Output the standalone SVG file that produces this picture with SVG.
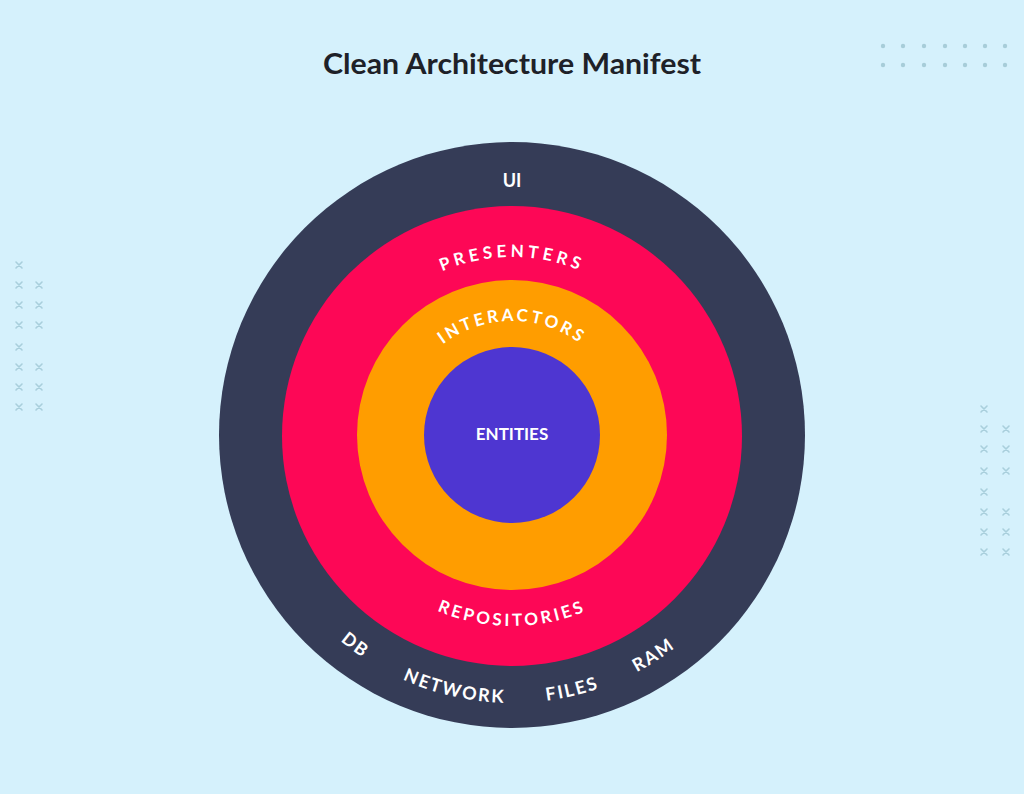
<svg xmlns="http://www.w3.org/2000/svg" width="1024" height="794" viewBox="0 0 1024 794">
<defs>
<style>
.lbl{font-family:Lato,"Open Sans","Liberation Sans",sans-serif;font-weight:700;fill:#ffffff;}
.arc{font-size:17px;letter-spacing:4px;}
.out{font-size:18px;letter-spacing:2px;}
.dot{fill:#a7cdd9;}
.x{stroke:#a9cfdc;stroke-width:1.6;stroke-linecap:round;}
</style>
<path id="pPres" d="M 334 435 A 178 178 0 0 1 690 435"/>
<path id="pInter" d="M 398 435 A 114 114 0 0 1 626 435"/>
<path id="pRepo" d="M 321 435 A 191 191 0 0 0 703 435"/>
<path id="pOut" d="M 244 435 A 268 268 0 0 0 780 435"/>
<g id="cross"><path class="x" d="M -3 -3 L 3 3 M -3 3 L 3 -3"/></g>
</defs>
<rect width="1024" height="794" fill="#d5f1fc"/>
<text x="512" y="74" text-anchor="middle" font-family="Lato,'Liberation Sans',sans-serif" font-weight="700" font-size="28" fill="#1e2128" textLength="378" lengthAdjust="spacingAndGlyphs">Clean Architecture Manifest</text>
<g id="dots">
<circle class="dot" cx="883" cy="46" r="2.2"/><circle class="dot" cx="903" cy="46" r="2.2"/><circle class="dot" cx="924" cy="46" r="2.2"/><circle class="dot" cx="945" cy="46" r="2.2"/><circle class="dot" cx="965" cy="46" r="2.2"/><circle class="dot" cx="985" cy="46" r="2.2"/><circle class="dot" cx="1005" cy="46" r="2.2"/>
<circle class="dot" cx="883" cy="65" r="2.2"/><circle class="dot" cx="903" cy="65" r="2.2"/><circle class="dot" cx="924" cy="65" r="2.2"/><circle class="dot" cx="945" cy="65" r="2.2"/><circle class="dot" cx="965" cy="65" r="2.2"/><circle class="dot" cx="985" cy="65" r="2.2"/><circle class="dot" cx="1005" cy="65" r="2.2"/>
</g>
<g id="crossesLeft">
<use href="#cross" x="19" y="265"/>
<use href="#cross" x="19" y="285"/><use href="#cross" x="39" y="285"/>
<use href="#cross" x="19" y="305"/><use href="#cross" x="39" y="305"/>
<use href="#cross" x="19" y="325"/><use href="#cross" x="39" y="325"/>
<use href="#cross" x="19" y="347"/>
<use href="#cross" x="19" y="367"/><use href="#cross" x="39" y="367"/>
<use href="#cross" x="19" y="387"/><use href="#cross" x="39" y="387"/>
<use href="#cross" x="19" y="407"/><use href="#cross" x="39" y="407"/>
</g>
<g id="crossesRight">
<use href="#cross" x="984" y="409"/>
<use href="#cross" x="984" y="429"/><use href="#cross" x="1006" y="429"/>
<use href="#cross" x="984" y="449"/><use href="#cross" x="1006" y="449"/>
<use href="#cross" x="984" y="471"/><use href="#cross" x="1006" y="471"/>
<use href="#cross" x="984" y="492"/>
<use href="#cross" x="984" y="512"/><use href="#cross" x="1006" y="512"/>
<use href="#cross" x="984" y="532"/><use href="#cross" x="1006" y="532"/>
<use href="#cross" x="984" y="552"/><use href="#cross" x="1006" y="552"/>
</g>
<g id="ui">
<circle cx="512" cy="435" r="293" fill="#353c57"/>
<text class="lbl" x="512" y="187" text-anchor="middle" font-size="18">UI</text>
<text class="lbl out"><textPath href="#pOut" startOffset="29.6%" text-anchor="middle">DB</textPath></text>
<text class="lbl out"><textPath href="#pOut" startOffset="42.9%" text-anchor="middle">NETWORK</textPath></text>
<text class="lbl out"><textPath href="#pOut" startOffset="57.4%" text-anchor="middle">FILES</textPath></text>
<text class="lbl out"><textPath href="#pOut" startOffset="68.2%" text-anchor="middle">RAM</textPath></text>
</g>
<g id="presenters">
<circle cx="512" cy="436" r="230" fill="#fd0756"/>
<text class="lbl arc"><textPath href="#pPres" startOffset="50%" text-anchor="middle">PRESENTERS</textPath></text>
<text class="lbl arc" style="letter-spacing:3px"><textPath href="#pRepo" startOffset="50%" text-anchor="middle">REPOSITORIES</textPath></text>
</g>
<g id="interactors">
<circle cx="512" cy="435" r="155" fill="#ff9d00"/>
<text class="lbl arc" style="letter-spacing:3px"><textPath href="#pInter" startOffset="50%" text-anchor="middle">INTERACTORS</textPath></text>
</g>
<g id="entities">
<circle cx="512" cy="435" r="88" fill="#4e36d1"/>
<text class="lbl" x="512" y="440" text-anchor="middle" font-size="17">ENTITIES</text>
</g>
<g id="connectors"/>
</svg>
